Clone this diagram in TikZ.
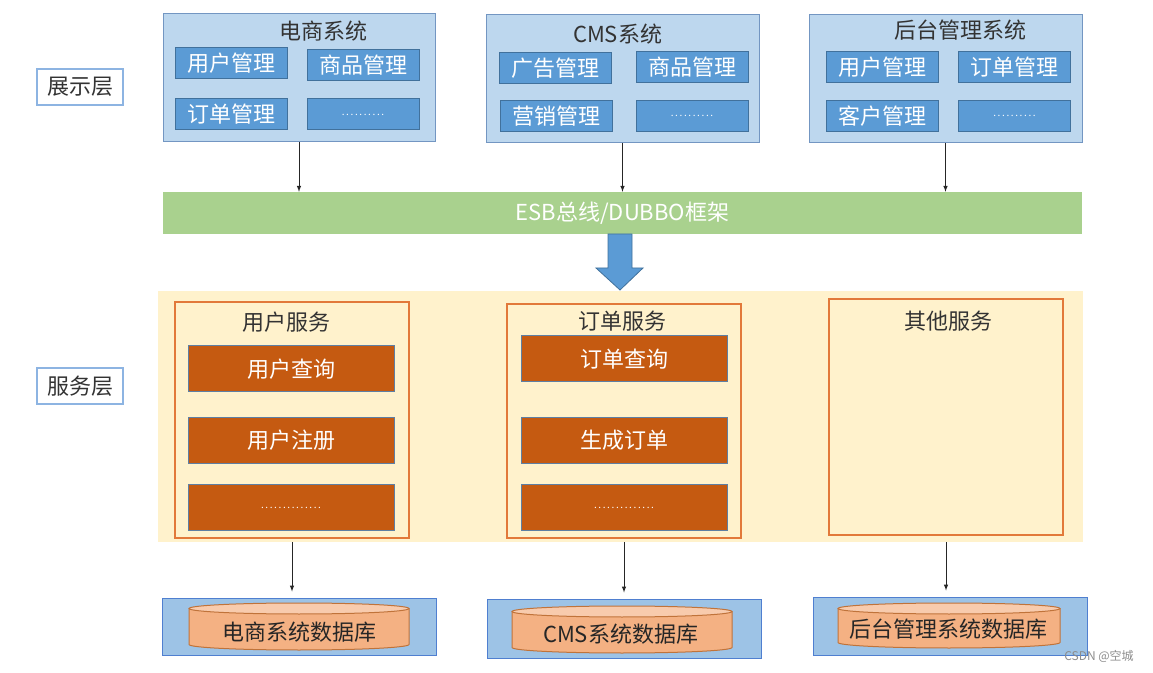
\documentclass[tikz,border=0pt]{standalone}
\usepackage{fontspec}
\newfontfamily\cjk{Noto Sans CJK SC}
\usetikzlibrary{calc}
\definecolor{sysfill}{HTML}{BDD7EE}
\definecolor{sysline}{HTML}{7396C2}
\definecolor{modfill}{HTML}{5B9BD5}
\definecolor{modline}{HTML}{41719C}
\definecolor{esbfill}{HTML}{A9D18E}
\definecolor{svcfill}{HTML}{FFF2CC}
\definecolor{svcline}{HTML}{E2793A}
\definecolor{taskfill}{HTML}{C55A11}
\definecolor{taskline}{HTML}{5E7FA3}
\definecolor{dbfill}{HTML}{9DC3E6}
\definecolor{dbline}{HTML}{4F7FD0}
\definecolor{cylbody}{HTML}{F4B183}
\definecolor{cyltop}{HTML}{F8CBAD}
\definecolor{cylline}{HTML}{C0733A}
\definecolor{layerline}{HTML}{8DB4E2}
\definecolor{ink}{HTML}{333333}

\begin{document}
\begin{tikzpicture}[x=1pt,y=1pt,
  every node/.style={font=\cjk\fontsize{22}{26}\selectfont, inner sep=0pt, text=ink},
  layer/.style={draw=layerline, line width=1.2pt, fill=white, minimum width=86, minimum height=36},
  sysbox/.style={draw=sysline, line width=1pt, fill=sysfill, minimum width=273, minimum height=128},
  modbox/.style={draw=modline, line width=1pt, fill=modfill, text=white, minimum width=112, minimum height=31},
  svcbox/.style={draw=svcline, line width=1.2pt, minimum width=234, minimum height=236},
  taskbox/.style={draw=taskline, line width=1pt, fill=taskfill, text=white, minimum width=206, minimum height=46},
  dbbox/.style={draw=dbline, line width=1pt, fill=dbfill, minimum width=274, minimum height=58},
  cyl/.style={draw=cylline, line width=1pt},
  dots/.style={font=\cjk\fontsize{10}{12}\selectfont},
  link/.style={->,>=latex,line width=1pt,draw=black!85}]
\useasboundingbox (0,0) rectangle (1153,672);

% layer labels
\node[layer] (show) at (80,585) {展示层};
\node[layer] (serv) at (80,286) {服务层};

% presentation systems
\node[sysbox, minimum width=272] (ds) at (299,594) {};
\node (dsT) at (323,641) {电商系统};
\node[modbox] (ds1) at (231,608.5) {用户管理};
\node[modbox] (ds2) at (363,607) {商品管理};
\node[modbox] (ds3) at (231.5,557.5) {订单管理};
\node[modbox, dots] (ds4) at (363,557.5) {\makebox[46pt]{\dotfill}};

\node[sysbox] (cms) at (622.5,593) {};
\node (cmsT) at (617.5,638) {CMS系统};
\node[modbox] (cms1) at (555.5,604) {广告管理};
\node[modbox] (cms2) at (692,605) {商品管理};
\node[modbox] (cms3) at (556,556) {营销管理};
\node[modbox, dots] (cms4) at (692,556) {\makebox[46pt]{\dotfill}};

\node[sysbox] (ht) at (945.5,593) {};
\node (htT) at (960,642) {后台管理系统};
\node[modbox] (ht1) at (882,605) {用户管理};
\node[modbox] (ht2) at (1014.5,605) {订单管理};
\node[modbox] (ht3) at (882,556) {客户管理};
\node[modbox, dots] (ht4) at (1014.5,556) {\makebox[46pt]{\dotfill}};

% bus
\node[fill=esbfill, minimum width=919, minimum height=42, text=white] (esb) at (622.5,459) {ESB总线/DUBBO框架};
\foreach \s in {ds,cms,ht}
  \draw[link] (\s.south) -- (\s.south |- esb.north);
\draw[draw=modline, fill=modfill, line width=.8pt] (608,438) -- (632,438) -- (632,404) -- (643,404)
  -- (620,382) -- (596,404) -- (608,404) -- cycle;

% service layer
\node[fill=svcfill, minimum width=925, minimum height=251] (svc) at (620.5,255.5) {};
\node[svcbox] (us) at (292,252) {};
\node (usT) at (286.5,350) {用户服务};
\node[taskbox] (us1) at (291,303) {用户查询};
\node[taskbox] (us2) at (291,231.5) {用户注册};
\node[taskbox, dots] (us3) at (291,164) {\makebox[62pt]{\dotfill}};

\node[svcbox, minimum height=234] (os) at (624,251) {};
\node (osT) at (622,351) {订单服务};
\node[taskbox] (os1) at (624,313) {订单查询};
\node[taskbox] (os2) at (624.5,231.5) {生成订单};
\node[taskbox, dots] (os3) at (624,164) {\makebox[62pt]{\dotfill}};

\node[svcbox] (qs) at (946,255) {};
\node (qsT) at (948,351) {其他服务};

% databases
\node[dbbox, minimum height=57] (dbA) at (299,45.5) {};
\node[dbbox, minimum height=59] (dbB) at (624,43.5) {};
\node[dbbox] (dbC) at (950,46) {};
\foreach \cx/\yt/\yb/\a in {299/69/22/110, 622/66/19/110, 949/69/24/111}
 {\draw[cyl, fill=cylbody] (\cx-\a,\yt-5.5) -- (\cx-\a,\yb+5.5)
    arc[start angle=180, end angle=360, x radius=\a, y radius=5.5] -- (\cx+\a,\yt-5.5) -- cycle;
  \draw[cyl, fill=cyltop] (\cx,\yt-5.5) ellipse[x radius=\a, y radius=5.5];
 };
\node[text=black!85] (dbtA) at (299,40) {电商系统数据库};
\node[text=black!85] (dbtB) at (620.5,38) {CMS系统数据库};
\node[text=black!85] (dbtC) at (948,43) {后台管理系统数据库};
\foreach \s/\d in {us/dbA,os/dbB,qs/dbC}
  \draw[link, shorten >=6pt] (\s.south |- svc.south) -- (\s.south |- \d.north);

\node[font=\cjk\fontsize{12}{14}\selectfont, text=black!45] (mark) at (1099,16) {CSDN @空城};
\end{tikzpicture}
\end{document}
